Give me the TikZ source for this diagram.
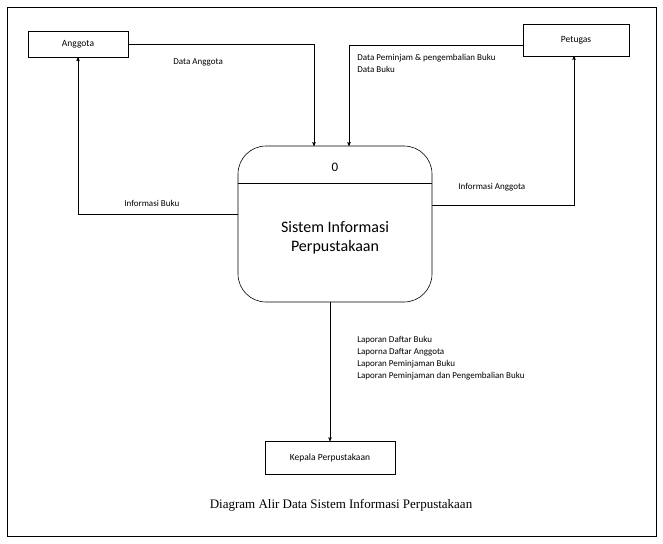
\documentclass[tikz,border=0pt]{standalone}
\usepackage{fontspec}
\setmainfont{Carlito}
\newfontfamily\capfont{Liberation Serif}
\usetikzlibrary{arrows,positioning}

\begin{document}
\begin{tikzpicture}[x=1pt,y=1pt,>=stealth',thick,
  ent node/.style={rectangle,draw,line width=0.6pt,font=\fontsize{9.5}{11}\selectfont,
    minimum height=26pt,inner sep=0pt,text height=6.5pt,text depth=2pt},
  lbl/.style={font=\fontsize{9}{12}\selectfont,align=left,anchor=west,inner sep=0pt},
  flow/.style={->,line width=0.5pt}]

  \useasboundingbox (0,0) rectangle (663,-543);
  \draw[line width=0.5pt] (7,-7) rectangle (656,-536);

  \node[ent node,minimum width=100pt] (A)  at (78,-44)  {Anggota};
  \node[ent node,minimum width=106pt,minimum height=32pt] (P) at (576,-40) {Petugas};
  \node[ent node,minimum width=130pt,minimum height=33pt] (K) at (330,-458) {Kepala Perpustakaan};

  \node[draw,line width=0.6pt,rounded corners=28pt,minimum width=194pt,minimum height=156pt,
        inner sep=0pt] (S) at (335,-224) {};
  \draw[line width=0.6pt] (238,-183) -- (432,-183);
  \node[font=\fontsize{13}{15}\selectfont] (N) at (335,-167) {0};
  \node[font=\fontsize{16}{19}\selectfont,align=center] (T) at (335,-238)
    {Sistem Informasi\\Perpustakaan};

  \coordinate (a1) at (314,-44);
  \coordinate (a2) at (314,-146);
  \coordinate (p1) at (349,-45);
  \coordinate (p2) at (349,-146);
  \coordinate (b1) at (238,-214);
  \coordinate (c1) at (432,-205);

  \draw[flow] (A.east |- a1) -- (a1) -- (a2);
  \draw[flow] (P.west |- p1) -- (p1) -- (p2);
  \draw[flow] (b1) -- (78,-214) -- (A.south);
  \draw[flow] (c1) -- (574,-205) -- (574,-56);
  \draw[flow] (S.south -| K.north) -- (K.north);

  \node[lbl] (l1) at (173,-62) {Data Anggota};
  \node[lbl] (l2) at (357,-63) {Data Peminjam \& pengembalian Buku\\Data Buku};
  \node[lbl] (l3) at (124,-203) {Informasi Buku};
  \node[lbl] (l4) at (458,-187) {Informasi Anggota};
  \node[lbl] (l5) at (357,-358) {Laporan Daftar Buku\\Laporna Daftar Anggota\\Laporan Peminjaman Buku\\Laporan Peminjaman dan Pengembalian Buku};

  \node[font=\capfont\fontsize{13}{15}\selectfont] (cap) at (341,-505)
    {Diagram Alir Data Sistem Informasi Perpustakaan};
\end{tikzpicture}
\end{document}
